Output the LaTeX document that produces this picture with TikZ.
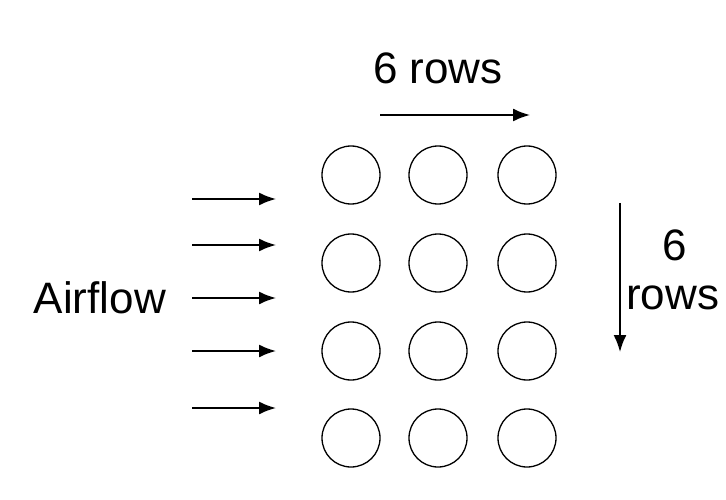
\documentclass[tikz,border=0pt]{standalone}
\usepackage{fontspec}
\setmainfont{Liberation Sans}
\usetikzlibrary{arrows.meta}
\begin{document}
\begin{tikzpicture}[x=1pt,y=-1pt,
  tube/.style={circle,draw,line width=1.3pt,minimum size=58pt,inner sep=0pt},
  flow/.style={line width=1.8pt,-{Latex[length=17pt,width=13pt]}},
  lab/.style={font=\fontsize{44}{48}\selectfont,inner sep=0pt}]
\useasboundingbox (0,0) rectangle (726,500);
\foreach \x [count=\i] in {351,438,527}
  \foreach \y [count=\j] in {175,263,351,438}
    \node[tube] (t\i\j) at (\x,\y) {};
\foreach \y [count=\k] in {199,245,298,351,408}{
  \coordinate (a\k) at (192,\y); \coordinate (b\k) at (276,\y);
  \draw[flow] (a\k) -- (b\k);}
\node[lab,anchor=east] (air) at (166,298) {Airflow};
\coordinate (h1) at (380,115); \coordinate (h2) at (530,115);
\draw[flow] (h1) -- (h2);
\node[lab] (top) at (438,68) {6 rows};
\coordinate (v1) at (620,203); \coordinate (v2) at (620,352);
\draw[flow] (v1) -- (v2);
\node[lab] (six) at (675,245) {6};
\node[lab,anchor=west] (rows) at (626,298) {rows};
\end{tikzpicture}
\end{document}
